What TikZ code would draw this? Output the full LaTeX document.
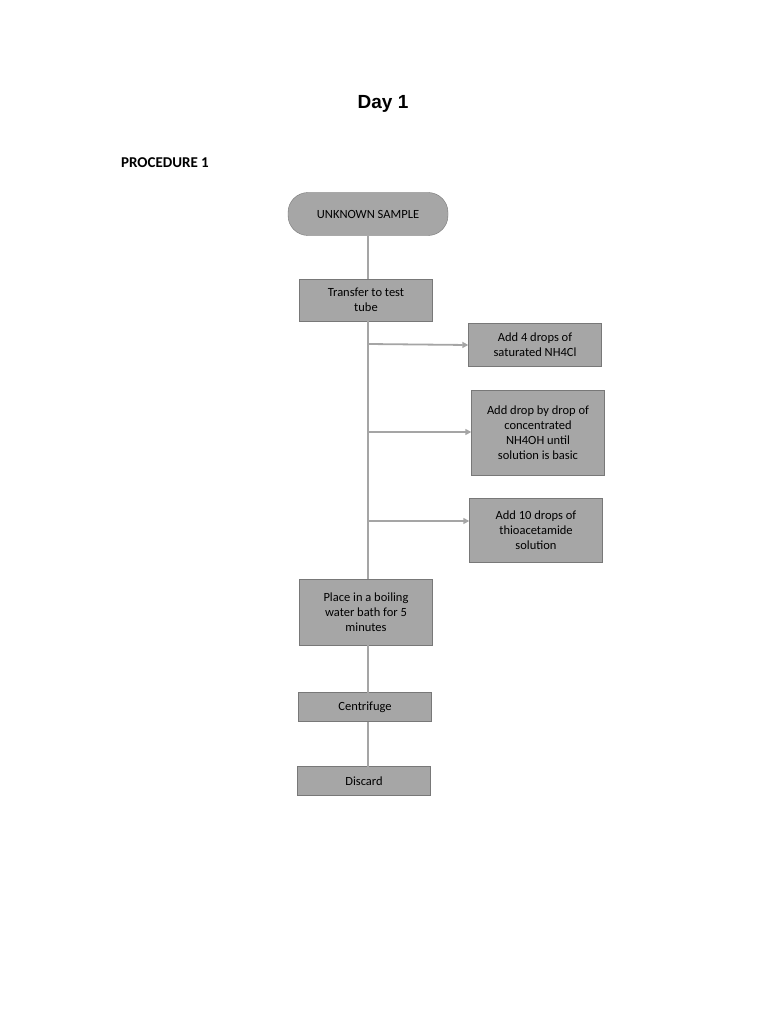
\documentclass[tikz,border=0pt]{standalone}
\usepackage{fontspec}
\setmainfont{Carlito}
\newfontfamily\arialf{Liberation Sans}
\usetikzlibrary{arrows.meta}
\definecolor{boxfill}{RGB}{166,166,166}
\definecolor{boxline}{RGB}{120,120,120}
\definecolor{conn}{RGB}{165,165,165}
\begin{document}
\begin{tikzpicture}[x=1pt,y=-1pt,
  box/.style={draw=boxline,fill=boxfill,minimum width=133pt,align=center,font=\fontsize{12.5}{15}\selectfont,inner sep=2pt},
  ln/.style={draw=conn,line width=1.8pt},
  arr/.style={ln,-{Triangle[length=6pt,width=6pt]}}]
\useasboundingbox (0,0) rectangle (768,1024);
\node[font=\arialf\bfseries\fontsize{19}{22}\selectfont] (day) at (383,104) {Day 1};
\node[font=\bfseries\fontsize{15}{18}\selectfont] (proc) at (165,163) {PROCEDURE 1};
\node[box,rounded corners=20pt,minimum width=160pt,minimum height=43pt] (u) at (368,214) {UNKNOWN SAMPLE};
\node[box,minimum height=42pt] (t) at (366,300) {Transfer to test\\tube};
\node[box,minimum height=43pt] (a1) at (535,345) {Add 4 drops of\\saturated NH4Cl};
\node[box,minimum height=85pt] (a2) at (538,433) {Add drop by drop of\\concentrated\\NH4OH until\\solution is basic};
\node[box,minimum height=64pt] (a3) at (536,530) {Add 10 drops of\\thioacetamide\\solution};
\node[box,minimum height=66pt] (p) at (366,612) {Place in a boiling\\water bath for 5\\minutes};
\node[box,minimum height=29pt] (c) at (365,707) {Centrifuge};
\node[box,minimum height=29pt] (d) at (364,781) {Discard};
\coordinate (b1) at (368,344); \coordinate (b2) at (368,432); \coordinate (b3) at (368,521);
\draw[ln] (368,236) -- (368,279);
\draw[ln] (368,321) -- (368,579);
\draw[ln] (368,645) -- (368,693);
\draw[ln] (368,722) -- (368,767);
\draw[arr] (b1) -- (a1.west);
\draw[arr] (b2) -- (a2.west|-b2);
\draw[arr] (b3) -- (a3.west|-b3);
\end{tikzpicture}
\end{document}
